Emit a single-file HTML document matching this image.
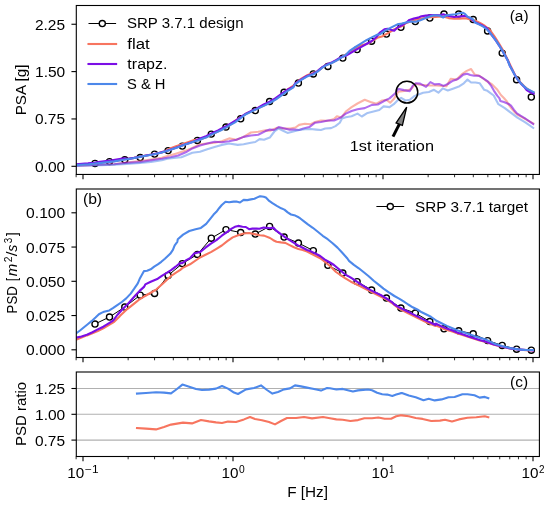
<!DOCTYPE html><html><head><meta charset="utf-8"><style>html,body{margin:0;padding:0;background:#fff;}svg{display:block;will-change:transform;}text{font-family:"Liberation Sans",sans-serif;fill:#000;}</style></head><body>
<svg width="550" height="506" viewBox="0 0 550 506">
<rect width="550" height="506" fill="#fff"/>
<defs>
<clipPath id="cpa"><rect x="76.3" y="5.5" width="463.09999999999997" height="168.95"/></clipPath>
<clipPath id="cpb"><rect x="76.3" y="189.0" width="463.09999999999997" height="168.5"/></clipPath>
<clipPath id="cpc"><rect x="76.3" y="372.0" width="463.09999999999997" height="84.5"/></clipPath>
</defs>
<line x1="76.3" x2="539.4" y1="440.1" y2="440.1" stroke="#b0b0b0" stroke-width="1.1"/>
<line x1="76.3" x2="539.4" y1="414.3" y2="414.3" stroke="#b0b0b0" stroke-width="1.1"/>
<line x1="76.3" x2="539.4" y1="388.5" y2="388.5" stroke="#b0b0b0" stroke-width="1.1"/>
<g clip-path="url(#cpa)"><circle cx="95" cy="163.4" r="3.05" fill="#fff" stroke="#000" stroke-width="1.35"/><circle cx="109.5" cy="161.6" r="3.05" fill="#fff" stroke="#000" stroke-width="1.35"/><circle cx="124.8" cy="159.8" r="3.05" fill="#fff" stroke="#000" stroke-width="1.35"/><circle cx="140.2" cy="157.5" r="3.05" fill="#fff" stroke="#000" stroke-width="1.35"/><circle cx="154.6" cy="154.1" r="3.05" fill="#fff" stroke="#000" stroke-width="1.35"/><circle cx="168.1" cy="150.6" r="3.05" fill="#fff" stroke="#000" stroke-width="1.35"/><circle cx="182.3" cy="146.1" r="3.05" fill="#fff" stroke="#000" stroke-width="1.35"/><circle cx="197.4" cy="140.4" r="3.05" fill="#fff" stroke="#000" stroke-width="1.35"/><circle cx="211.3" cy="134.1" r="3.05" fill="#fff" stroke="#000" stroke-width="1.35"/><circle cx="226" cy="127.1" r="3.05" fill="#fff" stroke="#000" stroke-width="1.35"/><circle cx="240.7" cy="118.8" r="3.05" fill="#fff" stroke="#000" stroke-width="1.35"/><circle cx="255.3" cy="110.6" r="3.05" fill="#fff" stroke="#000" stroke-width="1.35"/><circle cx="269.6" cy="101.6" r="3.05" fill="#fff" stroke="#000" stroke-width="1.35"/><circle cx="284.1" cy="92.3" r="3.05" fill="#fff" stroke="#000" stroke-width="1.35"/><circle cx="298.4" cy="83.1" r="3.05" fill="#fff" stroke="#000" stroke-width="1.35"/><circle cx="313.3" cy="73.9" r="3.05" fill="#fff" stroke="#000" stroke-width="1.35"/><circle cx="327.9" cy="66.4" r="3.05" fill="#fff" stroke="#000" stroke-width="1.35"/><circle cx="342.8" cy="58.1" r="3.05" fill="#fff" stroke="#000" stroke-width="1.35"/><circle cx="357.1" cy="49.6" r="3.05" fill="#fff" stroke="#000" stroke-width="1.35"/><circle cx="371.6" cy="41.2" r="3.05" fill="#fff" stroke="#000" stroke-width="1.35"/><circle cx="386.4" cy="34" r="3.05" fill="#fff" stroke="#000" stroke-width="1.35"/><circle cx="400.9" cy="27.3" r="3.05" fill="#fff" stroke="#000" stroke-width="1.35"/><circle cx="415.3" cy="21.6" r="3.05" fill="#fff" stroke="#000" stroke-width="1.35"/><circle cx="429.8" cy="18" r="3.05" fill="#fff" stroke="#000" stroke-width="1.35"/><circle cx="444" cy="14" r="3.05" fill="#fff" stroke="#000" stroke-width="1.35"/><circle cx="458.7" cy="14" r="3.05" fill="#fff" stroke="#000" stroke-width="1.35"/><circle cx="473.2" cy="19.5" r="3.05" fill="#fff" stroke="#000" stroke-width="1.35"/><circle cx="487.6" cy="30.9" r="3.05" fill="#fff" stroke="#000" stroke-width="1.35"/><circle cx="502.2" cy="53.1" r="3.05" fill="#fff" stroke="#000" stroke-width="1.35"/><circle cx="516.6" cy="79.7" r="3.05" fill="#fff" stroke="#000" stroke-width="1.35"/><circle cx="531.3" cy="97.1" r="3.05" fill="#fff" stroke="#000" stroke-width="1.35"/></g>
<g clip-path="url(#cpa)">
<polyline points="70,166 76,165.6 88.7,165.3 101.5,164.8 114.2,164.2 126.9,162.5 140,161 150.9,159.5 161.8,157.8 167.3,156.1 174.9,153.9 180.3,152.3 185.8,150.6 192.3,147.9 200,144.2 214.5,142.7 221.8,141.3 229.1,138.4 236.4,139.8 243.6,136.9 250.9,132.5 258.2,131.8 265.5,130.4 270,130.7 277.3,127.8 283.1,128.5 290.4,128.5 295.5,127.5 299.1,124.9 304.9,123.7 310.7,124.2 315.1,122 320.9,120.5 328.2,120.8 334,119.1 336.9,116.2 341.3,117.6 345.8,111.5 351.6,107.1 357.5,103.5 364.7,99.8 370.5,102 376.4,103.7 382.2,100.5 386.5,99.8 390.2,102.7 393.8,99.1 398.2,91.8 402.5,91.1 406.9,90.4 411.3,88.9 415.6,83.8 420.2,84.7 428.9,85.5 436.2,85.5 446.4,86.2 450.7,78.9 456.5,79.6 462.4,73.8 466.7,70.9 471.1,69 474.7,74.5 479.8,76 485.8,80.5 492.1,84.5 496.9,89.2 500.9,95 503.9,98 506.9,101.5 509.2,105.4 511.6,108.6 514.6,112.2 517.5,114.8 521,116.6 524.6,118.6 528,120.6 533.2,123.4" fill="none" stroke="#f7755f" stroke-width="2.1" stroke-linejoin="round" stroke-linecap="square" stroke-opacity="0.55"/>
<polyline points="70,166 76,165.6 88.7,165.3 101.5,164.8 114.2,164.2 126.9,162.9 140,162.1 150.9,160.4 161.8,158.8 170.5,157.2 178.2,155.5 185.8,152.3 192.3,148.4 200,145.6 207.3,143.5 214.5,141.7 221.8,142.3 229.1,141.3 236.4,139.8 243.6,136.9 250.9,135.5 258.2,134.7 265.5,131.1 269.8,129.6 274.4,130 278.7,127.1 284.5,128.5 288.9,129.6 294.7,129.6 299.1,130 303.5,128.5 309.3,127.1 315.1,122.7 320.9,122 328.2,120.5 334,120.5 340,118 345.8,113.6 351.6,111 357.5,109.3 364.7,108.1 372,104.9 377.8,104.5 383.6,101.3 389.5,98.4 395.3,93.3 398.2,88.9 404,90.1 409.8,91.1 412.9,85.5 415.8,83.3 420.2,83.6 426,86.9 430.4,82.1 434.7,84.4 439.1,84 443.5,85.9 447.8,84 452.2,81.1 458,78.9 460,77.4 463.2,74.6 467.1,73.8 470.3,75 474.2,75.8 479,75.8 482.9,78.2 487.7,81.3 490.8,85.3 494,90.8 497.2,95.6 499.5,98.4 500.3,100.9 503.9,102.1 508.6,103.9 511,105.7 514,109.8 516.9,113.4 520.5,115.7 524.6,118.1 525.3,118.5 533.2,124" fill="none" stroke="#7b0ee6" stroke-width="2.1" stroke-linejoin="round" stroke-linecap="square" stroke-opacity="0.6"/>
<polyline points="70,166 76,165.6 88.7,165.4 101.5,165.1 114.2,164.8 126.9,164 140,163 150.9,162 161.8,160.3 167.3,158.8 176,157.7 181.4,157.2 186.9,155 192.3,152.8 200,151.8 207.3,149.3 214.5,147.1 221.8,144.9 229.1,143.5 237.8,144.9 243.6,144.2 250.9,142.7 255.3,142 259.6,139.1 264,139.8 269.8,137.6 274.4,131.5 278.7,128.5 283.1,130.7 287.5,132.9 293.3,131.5 299.1,130 304.9,129.3 310.7,129 316.5,129.6 320.9,130 325.3,128.5 331.1,128.1 335.5,126.1 339.8,122.7 342,118.4 345.8,117.3 351.6,116.3 357.5,113.6 361.8,116.5 367.6,112.9 373.5,111.5 379.3,110 383.6,106.4 389.5,107.1 393.8,104.2 398.2,99.8 401.1,97.9 405.5,100.5 409.8,99.8 414.2,96.2 417.3,94.9 423.1,92.7 428.9,92 434,89.8 438.4,92.7 442.7,88.4 447.8,90.5 453.6,88.4 459.5,86.2 463.8,83.3 467.5,79.6 471.1,82.5 475.5,82.5 479.8,83.3 484.2,89.8 487.4,90.8 493.7,95.5 498.4,104.2 504.8,108.2 511.1,112.9 517.4,117.7 525.3,122.4 533.2,127.9" fill="none" stroke="#4d88ea" stroke-width="2.1" stroke-linejoin="round" stroke-linecap="square" stroke-opacity="0.5"/>
<polyline points="70,165.3 76,164.8 82,164.37 88,163.95 94,163.36 100,162.75 106,162.07 112,161.36 118,160.41 124,159.33 128,158.84 134,157.9 140,156.7 146,155.55 152,154.45 158,153.18 164,151.64 170,148.48 176,146.34 182,144.18 188,142.15 194,140.1 200,139.53 206,137.21 212,134.18 218,131.43 224,128.4 230,125 236,120.14 245.9,113.8 251.9,111 257.8,108.2 263.7,105.5 269.7,102.6 275.6,99.2 281.5,94.9 287.4,89.6 293.4,85.7 295,84 300.9,78.9 306.9,75.3 312.8,73.3 317.5,71.4 322.3,67.4 327,64.6 331.8,62.7 336.5,60.3 341.3,57.3 346,54.4 350,52 355.5,48.6 360.9,45.5 366.4,44 369.6,42.7 377.3,37.8 382.7,36.2 389.3,32.4 394,29.5 398,27.8 403.3,25.5 405,23.5 409.1,22 413.7,20.3 420,18.8 426.8,17.5 435,17 443.2,16.5 448.6,18.1 454.1,18.6 459.5,18.6 465,18.3 467.5,18.8 473.3,20.3 475,20.5 480.9,23.5 485,26 489.8,29.9 494.8,36.8 498.7,43 501.7,48 504.6,53.5 507.6,59.5 511.9,68.5 514.8,74.5 517.8,79 520.8,82.8 523.7,85.8 526.7,88.5 529.6,90.3 533.6,92.6" fill="none" stroke="#f7755f" stroke-width="2.1" stroke-linejoin="round" stroke-linecap="square"/>
<polyline points="70,164.7 76,164.2 82,163.77 88,163.35 94,162.76 100,161.75 106,161.07 112,160.36 118,159.41 124,158.33 128,158.84 134,157.9 140,156.7 146,155.55 152,154.45 158,153.18 164,151.64 170,149.78 176,147.64 182,145.48 188,143.45 194,141.4 200,138.42 206,136.11 212,133.08 218,130.33 224,127.3 230,123.9 236,120.34 245.9,113.6 251.9,110.8 257.8,108 263.7,104.5 269.7,101.6 275.6,98.2 281.5,93.9 287.4,89.8 293.4,86.7 295,83.7 300.9,79.6 306.9,76 312.8,74 317.5,71.1 322.3,67.1 327,64.3 331.8,62.4 336.5,60 341.3,57 346,55.7 350,53.4 355.5,50.2 360.9,47.1 366.4,44 371.8,41 376,37.5 380,32.5 384.4,29.3 387.6,28.7 390.9,29.8 394.2,30.7 397.4,27.6 401.8,25.4 406.2,22.7 409.4,19.9 413.8,18.5 418.2,17.6 421.4,16.2 425.8,15.6 430.2,15.2 434.5,15.1 440,15.2 443.2,14.3 448.6,15.9 454.1,17 459.5,16.5 465,15.9 470.4,18.1 475,22.3 479,24 482.9,25.8 486.9,28.2 490.1,33 493.1,36.9 496.1,40.9 499,45.3 502,50.2 504.9,55.2 507.9,60.8 510.2,66.6 512.2,70.1 515.1,75.6 518.1,80.1 521.1,83.8 524,86.7 526.7,90.1 529.6,91.8 533.6,93.5" fill="none" stroke="#7b0ee6" stroke-width="2.1" stroke-linejoin="round" stroke-linecap="square"/>
<polyline points="70,165.6 76,165.1 88.7,164.2 101.5,162.9 114.2,161.4 126.9,159.2 133,158.3 140,156.9 147.3,155.5 154.5,154.2 161.8,152.5 169.1,150.3 176.4,147.7 180,146.4 185,144.6 189.1,143.3 194,141.6 198.2,140.4 203,138.6 207.3,136.9 211.5,134.6 216.4,132.4 221,130.2 225.5,127.8 230,125.2 235,122.4 240,118.6 245.9,114.2 251.9,111.4 257.8,108.6 263.7,105.9 269.7,103 275.6,99.6 281.5,95.3 287.4,91.2 293.4,87.3 295,84.3 300.9,80.2 306.9,76.6 312.8,74.6 317.5,71.7 322.3,67.7 327,64.9 331.8,63 336.5,60.6 341.3,57.6 346,54.7 350,50.6 355.5,47 360.9,43.6 366.4,40.2 371.8,37.4 377.3,34.6 380,34.2 385.5,30.4 390.9,27.6 397.4,24.4 401.8,23.6 407.3,22.2 411.6,21.5 416,21.8 420.3,20.2 425.8,18 431.3,16 434.5,15.3 440,15.8 443.2,17.5 446.4,15.4 450.8,14.8 455.2,14.3 459.5,13.2 462.8,12.8 465,13.9 467.5,16.6 473.3,19.5 475,22.5 479,24.4 482.9,26.4 486.9,29.4 489.8,32.4 492.8,36.3 495.8,40.3 498.7,44.7 501.7,49.6 504.6,54.6 507.6,60.2 509.9,66 511.9,69.5 514.8,75 517.8,79.5 520.8,83.2 523.7,86.1 526.7,88.6 529.6,90.1 533.6,92.1" fill="none" stroke="#4d88ea" stroke-width="2.1" stroke-linejoin="round" stroke-linecap="square"/>
</g>
<g clip-path="url(#cpb)"><polyline points="95,324 109.5,317 124.8,307 140.2,295.2 154.6,293.4 168.1,275.4 182.3,263.6 197.4,254.4 211.3,238.2 226,229.6 240.7,232.5 255.3,234 269.6,226.4 284.1,237 298.4,243 313.3,250.6 327.9,265.3 342.8,273 357.1,281.6 371.6,290 386.4,298 400.9,308 415.3,313 429.8,321.5 444,328.8 458.7,330.8 473.2,333.8 487.6,340.6 502.2,345.4 516.6,349.2 531.3,350.2" fill="none" stroke="#000" stroke-width="1.0" stroke-linejoin="round" stroke-linecap="square"/><circle cx="95" cy="324" r="3.05" fill="#fff" stroke="#000" stroke-width="1.35"/><circle cx="109.5" cy="317" r="3.05" fill="#fff" stroke="#000" stroke-width="1.35"/><circle cx="124.8" cy="307" r="3.05" fill="#fff" stroke="#000" stroke-width="1.35"/><circle cx="140.2" cy="295.2" r="3.05" fill="#fff" stroke="#000" stroke-width="1.35"/><circle cx="154.6" cy="293.4" r="3.05" fill="#fff" stroke="#000" stroke-width="1.35"/><circle cx="168.1" cy="275.4" r="3.05" fill="#fff" stroke="#000" stroke-width="1.35"/><circle cx="182.3" cy="263.6" r="3.05" fill="#fff" stroke="#000" stroke-width="1.35"/><circle cx="197.4" cy="254.4" r="3.05" fill="#fff" stroke="#000" stroke-width="1.35"/><circle cx="211.3" cy="238.2" r="3.05" fill="#fff" stroke="#000" stroke-width="1.35"/><circle cx="226" cy="229.6" r="3.05" fill="#fff" stroke="#000" stroke-width="1.35"/><circle cx="240.7" cy="232.5" r="3.05" fill="#fff" stroke="#000" stroke-width="1.35"/><circle cx="255.3" cy="234" r="3.05" fill="#fff" stroke="#000" stroke-width="1.35"/><circle cx="269.6" cy="226.4" r="3.05" fill="#fff" stroke="#000" stroke-width="1.35"/><circle cx="284.1" cy="237" r="3.05" fill="#fff" stroke="#000" stroke-width="1.35"/><circle cx="298.4" cy="243" r="3.05" fill="#fff" stroke="#000" stroke-width="1.35"/><circle cx="313.3" cy="250.6" r="3.05" fill="#fff" stroke="#000" stroke-width="1.35"/><circle cx="327.9" cy="265.3" r="3.05" fill="#fff" stroke="#000" stroke-width="1.35"/><circle cx="342.8" cy="273" r="3.05" fill="#fff" stroke="#000" stroke-width="1.35"/><circle cx="357.1" cy="281.6" r="3.05" fill="#fff" stroke="#000" stroke-width="1.35"/><circle cx="371.6" cy="290" r="3.05" fill="#fff" stroke="#000" stroke-width="1.35"/><circle cx="386.4" cy="298" r="3.05" fill="#fff" stroke="#000" stroke-width="1.35"/><circle cx="400.9" cy="308" r="3.05" fill="#fff" stroke="#000" stroke-width="1.35"/><circle cx="415.3" cy="313" r="3.05" fill="#fff" stroke="#000" stroke-width="1.35"/><circle cx="429.8" cy="321.5" r="3.05" fill="#fff" stroke="#000" stroke-width="1.35"/><circle cx="444" cy="328.8" r="3.05" fill="#fff" stroke="#000" stroke-width="1.35"/><circle cx="458.7" cy="330.8" r="3.05" fill="#fff" stroke="#000" stroke-width="1.35"/><circle cx="473.2" cy="333.8" r="3.05" fill="#fff" stroke="#000" stroke-width="1.35"/><circle cx="487.6" cy="340.6" r="3.05" fill="#fff" stroke="#000" stroke-width="1.35"/><circle cx="502.2" cy="345.4" r="3.05" fill="#fff" stroke="#000" stroke-width="1.35"/><circle cx="516.6" cy="349.2" r="3.05" fill="#fff" stroke="#000" stroke-width="1.35"/><circle cx="531.3" cy="350.2" r="3.05" fill="#fff" stroke="#000" stroke-width="1.35"/></g>
<g clip-path="url(#cpb)">
<polyline points="70,341.5 76,339.8 81.5,337.6 86.9,335.4 92.4,333.3 97.8,331.1 103.3,328.4 108.7,325.1 114.2,321.8 119.6,316.4 120.9,315 126.2,310 130.7,306.4 135.1,302.9 139.6,299.3 144,296.7 146,295.5 152,292 156.5,289.3 161.3,285 166.7,280 171.1,276 175.6,272.9 180,270.2 182.3,268.1 186.7,265.9 190,264.3 200,257.5 205.5,254.8 210.9,252.1 216.4,248.8 221.8,245.5 227.3,241.2 232.7,237.4 238.2,235.2 243.6,233.5 249.1,233 254.5,234.1 260,235.2 264,235.6 270,238 273.3,240.2 276.5,241.8 280.9,242.4 285.3,242.9 289.6,245.1 294,247.3 298.4,248.9 302.7,250 307.1,251.6 311.4,253.8 315.8,256 320.2,258.2 324.5,261.4 327.8,264.2 330,266 336,272 345,278.2 350.9,281.7 356.9,284.6 362.8,287.6 368.7,290.6 374.6,293.5 380.6,296.5 386.5,299.5 392.4,303.4 399.1,308.6 408.2,313.2 417.3,317.7 426.4,322.3 435.5,325.9 436,325.6 441.5,327.9 446.9,329.9 452.4,331.6 457.8,333.5 463.3,335.2 468.7,337 474.2,338.7 479.6,340.4 486,342.1 494,344.8 502,346.8 510,348.5 518,349.5 526,350.1 533,350.4" fill="none" stroke="#f7755f" stroke-width="2.1" stroke-linejoin="round" stroke-linecap="square"/>
<polyline points="70,339.5 76,337.6 81.5,336.5 86.9,334.7 92.4,332.2 97.8,329.4 103.3,326.7 108.7,323.4 113.1,320.7 117.3,315 121.8,310 126.2,305.6 130.7,300.7 135.1,295.8 139.6,290.9 144,286.9 145.3,284.4 150.7,281.8 157.8,278.7 162.2,275.6 166.7,272.9 171.1,270.2 175.6,266.7 180,263.1 182.3,263.2 186.7,259.9 190,258.3 194,253.6 200,252.1 205.5,247.7 210.9,243.6 216.4,240.1 221.8,235.7 227.3,231.9 231.6,228.6 234.9,226.8 238.2,225.9 242.5,226.8 245.8,227 249.1,229.2 252.3,228.6 256.7,228.6 259.4,228.7 263.7,227.6 268.1,228 270,228.2 273.3,227.6 276.5,230.9 280.9,234.2 285.3,237.4 289.6,240.2 294,242.9 298.4,245.6 302.7,247.8 307.1,250 311.4,251.6 315.8,253.8 320.2,256 324.5,259.3 330,262.5 334,265 345,274.3 350.9,277.7 356.9,281.7 362.8,285.6 368.7,289.1 374.6,292.1 380.6,295 386.5,298.5 392.4,302.4 394.5,304.5 399.1,307.3 403.6,309.5 408.2,311.8 412.7,314.1 417.3,316.4 421.8,318.6 426.4,320.9 430.9,322.7 435.5,325 436,323.6 441.5,326.4 446.9,328.6 452.4,330.5 457.8,332.7 463.3,334.5 468.7,336.4 474.2,338.2 479.6,340 486,341.8 494,344.6 502,346.6 510,348.4 518,349.4 526,350 533,350.3" fill="none" stroke="#7b0ee6" stroke-width="2.1" stroke-linejoin="round" stroke-linecap="square"/>
<polyline points="70,338 76,333.5 80,330.5 84,327.2 88,324 91.8,320.9 95.5,317.5 98.9,314.2 102,312.6 104,311.8 109.3,310.4 112.9,308.2 117.3,305.1 121.8,302 126.2,298.4 130.7,293.6 134.2,288.7 137.8,283.3 140,278.2 144,271.1 147.1,270.7 150.7,269.3 154.2,266.7 157.8,264.4 161.3,261.8 164.9,258.7 170.2,253.8 172.9,249.8 174.7,245.3 177.3,241.8 177.8,239.3 183.1,234.6 189.3,231 195.6,229.2 200.9,227.9 206.2,223.9 209.8,219.4 213.6,214.6 216.4,211.8 219.1,208.2 221.8,205 225.5,201.8 229.1,202.2 233.6,201.6 236.4,201.6 240,202.5 243.6,199.9 247.3,200.1 250.9,199.4 254.5,198.7 257.3,197.4 260,196.3 260.5,196.3 263.7,196.8 265.9,197.6 269.2,200.9 272.4,203.1 276.8,205.8 281.2,208.3 284.4,209.6 287.7,212.4 291,214.5 295.3,215.6 298.6,217.3 300,218.2 304,221.4 307.9,224.4 312.8,227.8 317.8,231.8 322.7,235.8 327.7,239.2 332.6,243.2 337.5,247.6 342.5,253 347.4,258.5 349,260.9 353.9,264.9 358.8,268.3 363.8,272.3 368.7,276.2 373.7,280.7 378.6,284.6 383.5,288.6 388.5,292.1 394.4,296 399.1,298.6 403.6,301.4 408.2,304.5 412.7,307.3 417.3,309.5 421.8,312.3 426.4,314.5 430.9,316.8 435.5,320 436,320.5 441.5,323.2 446.9,325.9 452.4,328.2 457.8,330.5 463.3,332.3 468.7,334.1 474.2,335.9 479.6,337.7 486,339.6 494,343.4 502,346 510,348 518,349.4 526,350 533,350" fill="none" stroke="#4d88ea" stroke-width="2.1" stroke-linejoin="round" stroke-linecap="square"/>
</g>
<g clip-path="url(#cpc)">
<polyline points="137,428 146,428.6 156,429.4 164,427 171,424.6 183,422.6 192,423.4 201,420 209,421.4 216,422.4 222,423 228,421.6 236,422 244,419.4 250,417 255,419 262,420.2 269,422 275,424.4 281,421 287,418 296,418 304,417 312,418.4 323,417 330,418.2 336.4,419.4 342.7,419.7 350.4,421 358,420.1 364.4,418.2 372,418.2 378.3,417.5 384.7,418.8 391.1,418.8 396.2,416.3 400,415.4 401.9,415.4 408.8,416.3 415.7,418 422.6,418.9 431.3,421 439.9,420.6 445,419.8 452,421.5 458.9,419.4 467.5,417.7 476.2,417.2 484.8,416.3 488.3,417.2" fill="none" stroke="#f7755f" stroke-width="2.1" stroke-linejoin="round" stroke-linecap="square"/>
<polyline points="137,393.6 146,393 156,392.2 164,392.6 171,393.4 177,389 182.4,384.6 190,387 196,389 202,390 209,389.6 216,388.6 222,386 228,388.6 234,392.6 238,394 246,389.4 254,388 261,385.4 267,390 272.4,393.6 278,392 284,389.4 290,388.4 295,385.4 301,386.4 307,387.6 314,389 321,390.6 327,388 330,388.3 336.4,389.5 342.7,388.9 347.8,390.2 352.9,391.5 358,390.4 363.1,389.9 368.2,389.5 372,390.2 377.1,392.7 382.2,394.2 387.3,394.6 392.3,395.9 396.2,394.6 400,393.4 401.9,393 408.8,395.6 415.7,397.3 423.5,400.2 428.7,398.7 434.7,400.4 441.6,399.4 448.5,397.3 454.6,397 462.4,394.2 467.5,394.2 474.5,395.2 479.6,397.6 484.8,396.9 488.3,398.1" fill="none" stroke="#4d88ea" stroke-width="2.1" stroke-linejoin="round" stroke-linecap="square"/>
</g>
<rect x="76.3" y="5.5" width="463.1" height="168.95" fill="none" stroke="#000" stroke-width="1.1"/>
<rect x="76.3" y="189.0" width="463.1" height="168.5" fill="none" stroke="#000" stroke-width="1.1"/>
<rect x="76.3" y="372.0" width="463.1" height="84.5" fill="none" stroke="#000" stroke-width="1.1"/>
<line x1="76.14" x2="76.14" y1="174.45" y2="177.23" stroke="#000" stroke-width="0.83"/>
<line x1="83" x2="83" y1="174.45" y2="179.31" stroke="#000" stroke-width="1.1"/>
<line x1="128.15" x2="128.15" y1="174.45" y2="177.23" stroke="#000" stroke-width="0.83"/>
<line x1="154.57" x2="154.57" y1="174.45" y2="177.23" stroke="#000" stroke-width="0.83"/>
<line x1="173.31" x2="173.31" y1="174.45" y2="177.23" stroke="#000" stroke-width="0.83"/>
<line x1="187.85" x2="187.85" y1="174.45" y2="177.23" stroke="#000" stroke-width="0.83"/>
<line x1="199.72" x2="199.72" y1="174.45" y2="177.23" stroke="#000" stroke-width="0.83"/>
<line x1="209.76" x2="209.76" y1="174.45" y2="177.23" stroke="#000" stroke-width="0.83"/>
<line x1="218.46" x2="218.46" y1="174.45" y2="177.23" stroke="#000" stroke-width="0.83"/>
<line x1="226.14" x2="226.14" y1="174.45" y2="177.23" stroke="#000" stroke-width="0.83"/>
<line x1="233" x2="233" y1="174.45" y2="179.31" stroke="#000" stroke-width="1.1"/>
<line x1="278.15" x2="278.15" y1="174.45" y2="177.23" stroke="#000" stroke-width="0.83"/>
<line x1="304.57" x2="304.57" y1="174.45" y2="177.23" stroke="#000" stroke-width="0.83"/>
<line x1="323.31" x2="323.31" y1="174.45" y2="177.23" stroke="#000" stroke-width="0.83"/>
<line x1="337.85" x2="337.85" y1="174.45" y2="177.23" stroke="#000" stroke-width="0.83"/>
<line x1="349.72" x2="349.72" y1="174.45" y2="177.23" stroke="#000" stroke-width="0.83"/>
<line x1="359.76" x2="359.76" y1="174.45" y2="177.23" stroke="#000" stroke-width="0.83"/>
<line x1="368.46" x2="368.46" y1="174.45" y2="177.23" stroke="#000" stroke-width="0.83"/>
<line x1="376.14" x2="376.14" y1="174.45" y2="177.23" stroke="#000" stroke-width="0.83"/>
<line x1="383" x2="383" y1="174.45" y2="179.31" stroke="#000" stroke-width="1.1"/>
<line x1="428.15" x2="428.15" y1="174.45" y2="177.23" stroke="#000" stroke-width="0.83"/>
<line x1="454.57" x2="454.57" y1="174.45" y2="177.23" stroke="#000" stroke-width="0.83"/>
<line x1="473.31" x2="473.31" y1="174.45" y2="177.23" stroke="#000" stroke-width="0.83"/>
<line x1="487.85" x2="487.85" y1="174.45" y2="177.23" stroke="#000" stroke-width="0.83"/>
<line x1="499.72" x2="499.72" y1="174.45" y2="177.23" stroke="#000" stroke-width="0.83"/>
<line x1="509.76" x2="509.76" y1="174.45" y2="177.23" stroke="#000" stroke-width="0.83"/>
<line x1="518.46" x2="518.46" y1="174.45" y2="177.23" stroke="#000" stroke-width="0.83"/>
<line x1="526.14" x2="526.14" y1="174.45" y2="177.23" stroke="#000" stroke-width="0.83"/>
<line x1="533" x2="533" y1="174.45" y2="179.31" stroke="#000" stroke-width="1.1"/>
<line x1="76.14" x2="76.14" y1="357.5" y2="360.28" stroke="#000" stroke-width="0.83"/>
<line x1="83" x2="83" y1="357.5" y2="362.36" stroke="#000" stroke-width="1.1"/>
<line x1="128.15" x2="128.15" y1="357.5" y2="360.28" stroke="#000" stroke-width="0.83"/>
<line x1="154.57" x2="154.57" y1="357.5" y2="360.28" stroke="#000" stroke-width="0.83"/>
<line x1="173.31" x2="173.31" y1="357.5" y2="360.28" stroke="#000" stroke-width="0.83"/>
<line x1="187.85" x2="187.85" y1="357.5" y2="360.28" stroke="#000" stroke-width="0.83"/>
<line x1="199.72" x2="199.72" y1="357.5" y2="360.28" stroke="#000" stroke-width="0.83"/>
<line x1="209.76" x2="209.76" y1="357.5" y2="360.28" stroke="#000" stroke-width="0.83"/>
<line x1="218.46" x2="218.46" y1="357.5" y2="360.28" stroke="#000" stroke-width="0.83"/>
<line x1="226.14" x2="226.14" y1="357.5" y2="360.28" stroke="#000" stroke-width="0.83"/>
<line x1="233" x2="233" y1="357.5" y2="362.36" stroke="#000" stroke-width="1.1"/>
<line x1="278.15" x2="278.15" y1="357.5" y2="360.28" stroke="#000" stroke-width="0.83"/>
<line x1="304.57" x2="304.57" y1="357.5" y2="360.28" stroke="#000" stroke-width="0.83"/>
<line x1="323.31" x2="323.31" y1="357.5" y2="360.28" stroke="#000" stroke-width="0.83"/>
<line x1="337.85" x2="337.85" y1="357.5" y2="360.28" stroke="#000" stroke-width="0.83"/>
<line x1="349.72" x2="349.72" y1="357.5" y2="360.28" stroke="#000" stroke-width="0.83"/>
<line x1="359.76" x2="359.76" y1="357.5" y2="360.28" stroke="#000" stroke-width="0.83"/>
<line x1="368.46" x2="368.46" y1="357.5" y2="360.28" stroke="#000" stroke-width="0.83"/>
<line x1="376.14" x2="376.14" y1="357.5" y2="360.28" stroke="#000" stroke-width="0.83"/>
<line x1="383" x2="383" y1="357.5" y2="362.36" stroke="#000" stroke-width="1.1"/>
<line x1="428.15" x2="428.15" y1="357.5" y2="360.28" stroke="#000" stroke-width="0.83"/>
<line x1="454.57" x2="454.57" y1="357.5" y2="360.28" stroke="#000" stroke-width="0.83"/>
<line x1="473.31" x2="473.31" y1="357.5" y2="360.28" stroke="#000" stroke-width="0.83"/>
<line x1="487.85" x2="487.85" y1="357.5" y2="360.28" stroke="#000" stroke-width="0.83"/>
<line x1="499.72" x2="499.72" y1="357.5" y2="360.28" stroke="#000" stroke-width="0.83"/>
<line x1="509.76" x2="509.76" y1="357.5" y2="360.28" stroke="#000" stroke-width="0.83"/>
<line x1="518.46" x2="518.46" y1="357.5" y2="360.28" stroke="#000" stroke-width="0.83"/>
<line x1="526.14" x2="526.14" y1="357.5" y2="360.28" stroke="#000" stroke-width="0.83"/>
<line x1="533" x2="533" y1="357.5" y2="362.36" stroke="#000" stroke-width="1.1"/>
<line x1="76.14" x2="76.14" y1="456.5" y2="459.28" stroke="#000" stroke-width="0.83"/>
<line x1="83" x2="83" y1="456.5" y2="461.36" stroke="#000" stroke-width="1.1"/>
<line x1="128.15" x2="128.15" y1="456.5" y2="459.28" stroke="#000" stroke-width="0.83"/>
<line x1="154.57" x2="154.57" y1="456.5" y2="459.28" stroke="#000" stroke-width="0.83"/>
<line x1="173.31" x2="173.31" y1="456.5" y2="459.28" stroke="#000" stroke-width="0.83"/>
<line x1="187.85" x2="187.85" y1="456.5" y2="459.28" stroke="#000" stroke-width="0.83"/>
<line x1="199.72" x2="199.72" y1="456.5" y2="459.28" stroke="#000" stroke-width="0.83"/>
<line x1="209.76" x2="209.76" y1="456.5" y2="459.28" stroke="#000" stroke-width="0.83"/>
<line x1="218.46" x2="218.46" y1="456.5" y2="459.28" stroke="#000" stroke-width="0.83"/>
<line x1="226.14" x2="226.14" y1="456.5" y2="459.28" stroke="#000" stroke-width="0.83"/>
<line x1="233" x2="233" y1="456.5" y2="461.36" stroke="#000" stroke-width="1.1"/>
<line x1="278.15" x2="278.15" y1="456.5" y2="459.28" stroke="#000" stroke-width="0.83"/>
<line x1="304.57" x2="304.57" y1="456.5" y2="459.28" stroke="#000" stroke-width="0.83"/>
<line x1="323.31" x2="323.31" y1="456.5" y2="459.28" stroke="#000" stroke-width="0.83"/>
<line x1="337.85" x2="337.85" y1="456.5" y2="459.28" stroke="#000" stroke-width="0.83"/>
<line x1="349.72" x2="349.72" y1="456.5" y2="459.28" stroke="#000" stroke-width="0.83"/>
<line x1="359.76" x2="359.76" y1="456.5" y2="459.28" stroke="#000" stroke-width="0.83"/>
<line x1="368.46" x2="368.46" y1="456.5" y2="459.28" stroke="#000" stroke-width="0.83"/>
<line x1="376.14" x2="376.14" y1="456.5" y2="459.28" stroke="#000" stroke-width="0.83"/>
<line x1="383" x2="383" y1="456.5" y2="461.36" stroke="#000" stroke-width="1.1"/>
<line x1="428.15" x2="428.15" y1="456.5" y2="459.28" stroke="#000" stroke-width="0.83"/>
<line x1="454.57" x2="454.57" y1="456.5" y2="459.28" stroke="#000" stroke-width="0.83"/>
<line x1="473.31" x2="473.31" y1="456.5" y2="459.28" stroke="#000" stroke-width="0.83"/>
<line x1="487.85" x2="487.85" y1="456.5" y2="459.28" stroke="#000" stroke-width="0.83"/>
<line x1="499.72" x2="499.72" y1="456.5" y2="459.28" stroke="#000" stroke-width="0.83"/>
<line x1="509.76" x2="509.76" y1="456.5" y2="459.28" stroke="#000" stroke-width="0.83"/>
<line x1="518.46" x2="518.46" y1="456.5" y2="459.28" stroke="#000" stroke-width="0.83"/>
<line x1="526.14" x2="526.14" y1="456.5" y2="459.28" stroke="#000" stroke-width="0.83"/>
<line x1="533" x2="533" y1="456.5" y2="461.36" stroke="#000" stroke-width="1.1"/>
<line x1="71.44" x2="76.3" y1="166.3" y2="166.3" stroke="#000" stroke-width="1.1"/>
<text x="34.95" y="171.8" font-size="14.58" textLength="30.33" lengthAdjust="spacingAndGlyphs">0.00</text>
<line x1="71.44" x2="76.3" y1="118.95" y2="118.95" stroke="#000" stroke-width="1.1"/>
<text x="34.96" y="124.45" font-size="14.58" textLength="30.08" lengthAdjust="spacingAndGlyphs">0.75</text>
<line x1="71.44" x2="76.3" y1="71.6" y2="71.6" stroke="#000" stroke-width="1.1"/>
<text x="35.03" y="77.1" font-size="14.58" textLength="30.24" lengthAdjust="spacingAndGlyphs">1.50</text>
<line x1="71.44" x2="76.3" y1="24.25" y2="24.25" stroke="#000" stroke-width="1.1"/>
<text x="34.9" y="29.75" font-size="14.58" textLength="30.13" lengthAdjust="spacingAndGlyphs">2.25</text>
<line x1="71.44" x2="76.3" y1="349.8" y2="349.8" stroke="#000" stroke-width="1.1"/>
<text x="26.11" y="355.3" font-size="14.58" textLength="39.17" lengthAdjust="spacingAndGlyphs">0.000</text>
<line x1="71.44" x2="76.3" y1="315.55" y2="315.55" stroke="#000" stroke-width="1.1"/>
<text x="26.12" y="321.05" font-size="14.58" textLength="38.92" lengthAdjust="spacingAndGlyphs">0.025</text>
<line x1="71.44" x2="76.3" y1="281.3" y2="281.3" stroke="#000" stroke-width="1.1"/>
<text x="26.11" y="286.8" font-size="14.58" textLength="39.17" lengthAdjust="spacingAndGlyphs">0.050</text>
<line x1="71.44" x2="76.3" y1="247.05" y2="247.05" stroke="#000" stroke-width="1.1"/>
<text x="26.12" y="252.55" font-size="14.58" textLength="38.92" lengthAdjust="spacingAndGlyphs">0.075</text>
<line x1="71.44" x2="76.3" y1="212.8" y2="212.8" stroke="#000" stroke-width="1.1"/>
<text x="26.11" y="218.3" font-size="14.58" textLength="39.17" lengthAdjust="spacingAndGlyphs">0.100</text>
<line x1="71.44" x2="76.3" y1="440.1" y2="440.1" stroke="#000" stroke-width="1.1"/>
<text x="34.96" y="445.6" font-size="14.58" textLength="30.08" lengthAdjust="spacingAndGlyphs">0.75</text>
<line x1="71.44" x2="76.3" y1="414.3" y2="414.3" stroke="#000" stroke-width="1.1"/>
<text x="35.03" y="419.8" font-size="14.58" textLength="30.24" lengthAdjust="spacingAndGlyphs">1.00</text>
<line x1="71.44" x2="76.3" y1="388.5" y2="388.5" stroke="#000" stroke-width="1.1"/>
<text x="35.04" y="394" font-size="14.58" textLength="29.99" lengthAdjust="spacingAndGlyphs">1.25</text>
<text x="67.38" y="477.5" font-size="14.58" textLength="17" lengthAdjust="spacingAndGlyphs">10</text>
<text x="85.1" y="472.7" font-size="10.21" textLength="13.58" lengthAdjust="spacingAndGlyphs">−1</text>
<text x="221.45" y="477.5" font-size="14.58" textLength="17" lengthAdjust="spacingAndGlyphs">10</text>
<text x="238.97" y="472.7" font-size="10.21" textLength="5.72" lengthAdjust="spacingAndGlyphs">0</text>
<text x="371.45" y="477.5" font-size="14.58" textLength="17" lengthAdjust="spacingAndGlyphs">10</text>
<text x="389.08" y="472.7" font-size="10.21" textLength="5.44" lengthAdjust="spacingAndGlyphs">1</text>
<text x="521.45" y="477.5" font-size="14.58" textLength="17" lengthAdjust="spacingAndGlyphs">10</text>
<text x="538.95" y="472.7" font-size="10.21" textLength="5.52" lengthAdjust="spacingAndGlyphs">2</text>
<text x="287.2" y="496.6" font-size="14.58" textLength="40.76" lengthAdjust="spacingAndGlyphs">F [Hz]</text>
<g transform="translate(25.95,89.9) rotate(-90)"><text x="-25.41" y="0" font-size="14.58" textLength="50.81" lengthAdjust="spacingAndGlyphs">PSA [g]</text></g>
<g transform="translate(25.95,414.0) rotate(-90)"><text x="-32.05" y="0" font-size="14.58" textLength="64.09" lengthAdjust="spacingAndGlyphs">PSD ratio</text></g>
<g transform="translate(17.25,313.6) rotate(-90)"><text x="0.21" y="0" font-size="14.58" textLength="27.1" lengthAdjust="spacingAndGlyphs">PSD</text><text x="32.42" y="0" font-size="14.58" textLength="3.47" lengthAdjust="spacingAndGlyphs">[</text><text x="37.44" y="0" font-size="14.58" textLength="12.55" lengthAdjust="spacingAndGlyphs" font-style="italic">m</text><text x="51.28" y="-5.6" font-size="10.21" textLength="5.75" lengthAdjust="spacingAndGlyphs">2</text><text x="57.4" y="0" font-size="14.58" textLength="4.81" lengthAdjust="spacingAndGlyphs">/</text><text x="61.86" y="0" font-size="14.58" textLength="7.12" lengthAdjust="spacingAndGlyphs" font-style="italic">s</text><text x="70.43" y="-5.6" font-size="10.21" textLength="5.5" lengthAdjust="spacingAndGlyphs">3</text><text x="77.6" y="0" font-size="14.58" textLength="3.61" lengthAdjust="spacingAndGlyphs">]</text></g>
<text x="509.74" y="21.3" font-size="14.58" textLength="18.87" lengthAdjust="spacingAndGlyphs">(a)</text>
<text x="82.92" y="203.7" font-size="14.58" textLength="19.21" lengthAdjust="spacingAndGlyphs">(b)</text>
<text x="510.03" y="387.4" font-size="14.58" textLength="18.02" lengthAdjust="spacingAndGlyphs">(c)</text>
<line x1="88.5" x2="116.1" y1="23.5" y2="23.5" stroke="#000" stroke-width="1.0"/>
<circle cx="102.3" cy="23.5" r="3.05" fill="#fff" stroke="#000" stroke-width="1.35"/>
<text x="126.92" y="28.4" font-size="14.58" textLength="116.66" lengthAdjust="spacingAndGlyphs">SRP 3.7.1 design</text>
<line x1="88.5" x2="116.1" y1="44" y2="44" stroke="#f7755f" stroke-width="2.1" stroke-linecap="square"/>
<text x="127.35" y="48.6" font-size="14.58" textLength="22.46" lengthAdjust="spacingAndGlyphs">flat</text>
<line x1="88.5" x2="116.1" y1="64" y2="64" stroke="#7b0ee6" stroke-width="2.1" stroke-linecap="square"/>
<text x="127.36" y="68.8" font-size="14.58" textLength="40" lengthAdjust="spacingAndGlyphs">trapz.</text>
<line x1="88.5" x2="116.1" y1="84" y2="84" stroke="#4d88ea" stroke-width="2.1" stroke-linecap="square"/>
<text x="126.94" y="89" font-size="14.58" textLength="38.54" lengthAdjust="spacingAndGlyphs">S &amp; H</text>
<line x1="376.4" x2="404.2" y1="206.5" y2="206.5" stroke="#000" stroke-width="1.0"/>
<circle cx="390.3" cy="206.5" r="3.05" fill="#fff" stroke="#000" stroke-width="1.35"/>
<text x="415.11" y="211.7" font-size="14.58" textLength="112.83" lengthAdjust="spacingAndGlyphs">SRP 3.7.1 target</text>
<circle cx="406.9" cy="92.2" r="10.85" fill="none" stroke="#000" stroke-width="1.5"/>
<line x1="393.0" y1="136.6" x2="399.6" y2="123.6" stroke="#000" stroke-width="3.0"/>
<polygon points="406.7,107.1 396.1,122.9 402.4,125.3" fill="#808080" stroke="#000" stroke-width="1.3" stroke-linejoin="miter"/>
<text x="349.78" y="151.1" font-size="14.58" textLength="84.19" lengthAdjust="spacingAndGlyphs">1st iteration</text>
</svg></body></html>
